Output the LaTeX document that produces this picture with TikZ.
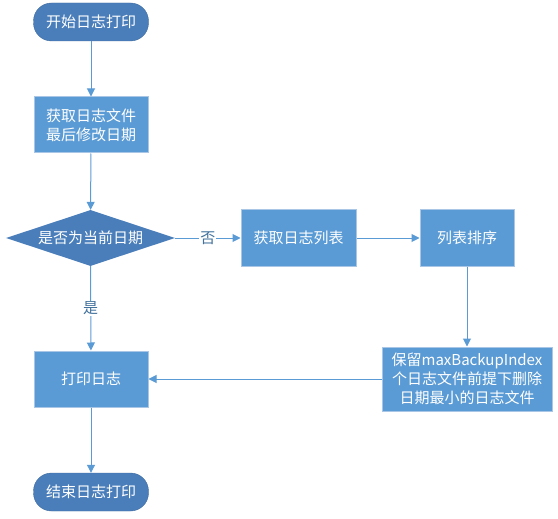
\documentclass[tikz,border=0pt]{standalone}
\usepackage{fontspec}
\setmainfont{Noto Sans CJK SC}
\usetikzlibrary{shapes,arrows.meta}
\definecolor{boxblue}{HTML}{5B9BD5}
\definecolor{termblue}{HTML}{4A7EBB}
\definecolor{rimblue}{HTML}{A9C6E6}
\definecolor{tagblue}{HTML}{41719C}

\begin{document}
\begin{tikzpicture}[x=1pt,y=-1pt,font=\fontsize{15}{19}\selectfont,
  flow/.style={draw=boxblue,line width=1pt,-{Triangle[length=8pt,width=8pt]}}]
\tikzstyle{terminal}=[fill=termblue,draw=termblue!85!black,rounded corners=18pt,
  minimum width=115,minimum height=38,text=white,inner sep=1pt]
\tikzstyle{process}=[fill=boxblue,draw=rimblue,line width=1pt,minimum width=114,
  minimum height=56,text=white,align=center,inner sep=1pt]
\tikzstyle{decision}=[diamond,aspect=3,fill=termblue,minimum width=169,minimum height=56,
  text=white,inner sep=0pt]
\tikzstyle{tag}=[fill=white,text=tagblue,inner sep=1pt]
\useasboundingbox (0,0) rectangle (558,519);

\node[terminal] (start) at (91,22) {开始日志打印};
\node[process] (getdate) at (91,125) {获取日志文件\\最后修改日期};
\node[decision] (iscur) at (90.5,238) {是否为当前日期};
\node[process,minimum width=115] (getlist) at (298.5,238) {获取日志列表};
\node[process,minimum width=94] (sortlist) at (467,238) {列表排序};
\node[process,minimum width=170,minimum height=64] (keep) at (467,379)
  {保留maxBackupIndex\\个日志文件前提下删除\\日期最小的日志文件};
\node[process] (print) at (91,379) {打印日志};
\node[terminal] (finish) at (91,492) {结束日志打印};

\draw[flow] (start) -- (getdate);
\draw[flow] (getdate) -- (iscur);
\draw[flow] (iscur) -- node[tag] {否} (getlist);
\draw[flow] (getlist) -- (sortlist);
\draw[flow] (sortlist) -- (keep);
\draw[flow] (keep) -- (print);
\draw[flow] (iscur) -- node[tag] {是} (print);
\draw[flow] (print) -- (finish);
\end{tikzpicture}
\end{document}
